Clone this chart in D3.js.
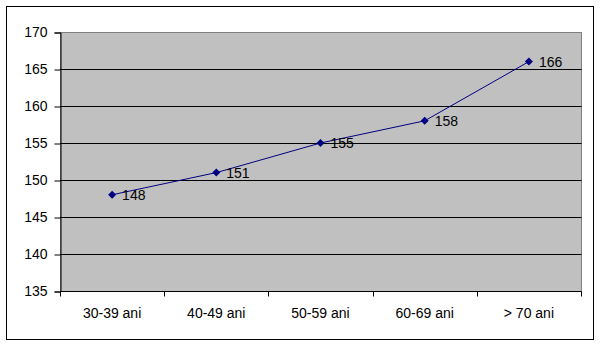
<!DOCTYPE html>
<html lang="en">
<head>
<meta charset="UTF-8">
<title>Chart</title>
<style>
  body { margin: 0; background: #fff; }
  text { font-family: Arial, "Liberation Sans", sans-serif; font-size: 14px; fill: #000; }
</style>
</head>
<body>
<script src="https://d3js.org/d3.v7.min.js"></script>
<script>
var categories = ['30-39 ani', '40-49 ani', '50-59 ani', '60-69 ani', '> 70 ani']
var values = [148, 151, 155, 158, 166]
var yTicks = [135, 140, 145, 150, 155, 160, 165, 170]

var width = 600, height = 348
var plot = { left: 60, top: 32, right: 581, bottom: 291 }

var svg = d3.select('body').append('svg')
    .attr('width', width)
    .attr('height', height)

// outer frame
svg.append('rect')
    .attr('x', 6.5).attr('y', 6.5)
    .attr('width', 587).attr('height', 333)
    .attr('fill', '#fff').attr('stroke', '#000').attr('stroke-width', 1)

var x = d3.scaleBand().domain(categories).range([plot.left, plot.right])
var y = d3.scaleLinear().domain([135, 170]).range([plot.bottom, plot.top])

// plot background
svg.append('rect')
    .attr('x', plot.left + 0.5).attr('y', plot.top + 0.5)
    .attr('width', plot.right - plot.left).attr('height', plot.bottom - plot.top)
    .attr('fill', '#c0c0c0').attr('stroke', '#808080')

// gridlines
svg.append('g').selectAll('line')
    .data(yTicks.filter(function (d) { return d > 135 && d < 170 }))
    .enter().append('line')
    .attr('x1', plot.left).attr('x2', plot.right + 0.5)
    .attr('y1', function (d) { return Math.round(y(d)) + 0.5 })
    .attr('y2', function (d) { return Math.round(y(d)) + 0.5 })
    .attr('stroke', '#000')

// y axis
var yAxis = svg.append('g')
    .attr('transform', 'translate(' + (plot.left + 0.5) + ',0.5)')
    .call(d3.axisLeft(y).tickValues(yTicks).tickSize(6).tickPadding(7))
yAxis.selectAll('path, line').attr('stroke', '#000')
yAxis.selectAll('text').style('font-size', '14px').style('font-family', 'Arial, "Liberation Sans", sans-serif')

// x axis
var xAxis = svg.append('g')
    .attr('transform', 'translate(0,' + (plot.bottom + 0.5) + ')')
xAxis.append('line')
    .attr('x1', plot.left).attr('x2', plot.right + 0.5)
    .attr('stroke', '#000')
var bounds = categories.map(function (c) { return x(c) }).concat([plot.right])
xAxis.selectAll('.tk').data(bounds).enter().append('line')
    .attr('x1', function (d) { return Math.round(d) + 0.5 })
    .attr('x2', function (d) { return Math.round(d) + 0.5 })
    .attr('y1', 0).attr('y2', 5)
    .attr('stroke', '#000')
xAxis.selectAll('.lbl').data(categories).enter().append('text')
    .attr('x', function (d) { return x(d) + x.bandwidth() / 2 })
    .attr('y', 22)
    .attr('dy', '0.35em')
    .attr('text-anchor', 'middle')
    .text(function (d) { return d })

// line
var cx = function (d, i) { return x(categories[i]) + x.bandwidth() / 2 }
svg.append('path')
    .datum(values)
    .attr('fill', 'none')
    .attr('stroke', '#000080')
    .attr('stroke-width', 1)
    .attr('d', d3.line().x(cx).y(function (d) { return y(d) }))

// markers
svg.append('g').selectAll('path')
    .data(values).enter().append('path')
    .attr('transform', function (d, i) { return 'translate(' + cx(d, i) + ',' + y(d) + ')' })
    .attr('d', 'M0,-4L4,0L0,4L-4,0Z')
    .attr('fill', '#000080')

// data labels
svg.append('g').selectAll('text')
    .data(values).enter().append('text')
    .attr('x', function (d, i) { return cx(d, i) + 10 })
    .attr('y', function (d) { return y(d) })
    .attr('dy', '0.35em')
    .text(function (d) { return d })
</script>
</body>
</html>
